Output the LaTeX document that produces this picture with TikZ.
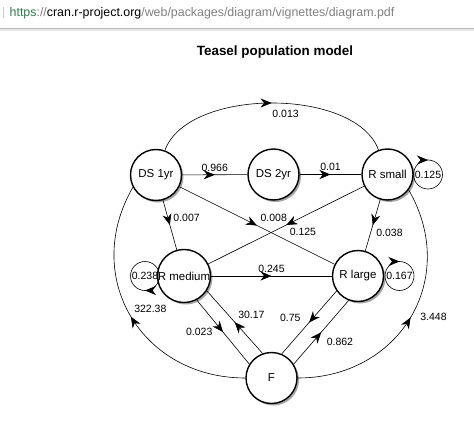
\documentclass[tikz,border=0pt]{standalone}
\usepackage{fontspec}
\setmainfont{Liberation Sans}
\usetikzlibrary{arrows.meta,decorations.markings,shadows}
\definecolor{urlgreen}{HTML}{2E7D4A}
\definecolor{urlgray}{HTML}{808080}
\begin{document}
\begin{tikzpicture}[x=1pt,y=1pt,
 stage/.style={circle,draw,line width=1.4pt,fill=white,minimum size=51pt,inner sep=0pt,font=\fontsize{11.5}{13}\selectfont,drop shadow={shadow xshift=2pt,shadow yshift=-2pt,fill=black!35,opacity=1}},
 flow/.style={line width=0.6pt,postaction={decorate},decoration={markings,mark=at position 0.5 with {\arrow{Stealth[length=11pt,width=9pt,inset=3.5pt]}}}},
 rate/.style={font=\fontsize{10.5}{12}\selectfont,inner sep=3.3pt}]
 \useasboundingbox (0,0) rectangle (474,432);
 \draw[gray!40,line width=0.6pt] (3,414)--(3,425); %入力欄
 \node[anchor=west,inner sep=0pt,font=\fontsize{12.4}{14}\selectfont] (url) at (9.5,419) {\textcolor{urlgreen}{https}\textcolor{urlgray}{://}cran.r-project.org\textcolor{urlgray}{/web/packages/diagram/vignettes/diagram.pdf}}; %URL
 \fill[gray!18] (0,401) rectangle (474,404);
 \draw[gray!55,line width=0.8pt] (0,404)--(474,404); %区切り線
 \node[font=\bfseries\fontsize{13.4}{16}\selectfont] (title) at (275,380) {Teasel population model}; %タイトル
 \node[stage] (ds1) at (156,257) {DS 1yr};
 \node[stage] (ds2) at (273.5,257.5) {DS 2yr};
 \node[stage] (rsmall) at (387.5,257.5) {R small};
 \node[stage] (rmed) at (184,156) {R medium};
 \node[stage] (rlarge) at (358,156) {R large};
 \node[stage] (f) at (271.5,54) {F};
 \draw[flow] (ds1) to[bend left=70,looseness=0.8] node[rate,below,xshift=14pt,yshift=-4pt] (l013) {0.013} (rsmall); %上の弧
 \draw[flow] (ds1)--(ds2) node[rate,midway,above] (l966) {0.966};
 \draw[flow] (ds2)--(rsmall) node[rate,midway,above] (l01) {0.01};
 \draw[flow] (ds1)--(rmed) node[rate,midway,above right] (l007) {0.007};
 \draw[flow] (ds1)--(rlarge) node[rate,midway,above right] (l008) {0.008};
 \draw[flow] (rsmall)--(rmed) node[rate,midway,below right] (l125) {0.125};
 \draw[flow] (rsmall)--(rlarge) node[rate,midway,below right] (l038) {0.038};
 \draw[flow] (rmed)--(rlarge) node[rate,midway,above] (l245) {0.245};
 \draw[flow] (rmed.-62)--(f.148) node[rate,midway,left=7pt] (l023) {0.023};
 \draw[flow] (f.110)--(rmed.-33) node[rate,midway,above right] (l3017) {30.17};
 \draw[flow] (rlarge.215)--(f.67) node[rate,midway,left=5pt,yshift=5pt] (l075) {0.75};
 \draw[flow] (f.32)--(rlarge.249) node[rate,midway,below right=2pt] (l862) {0.862};
 \draw[flow] (f.west) to[out=180,in=240,looseness=1.2] node[rate,above right] (l32238) {322.38} (ds1.208); %左の弧
 \draw[flow] (f.east) to[out=0,in=300,looseness=1.2] node[rate,right=6pt] (l3448) {3.448} (rsmall.-36); %右の弧
 \draw[flow] ([xshift=-39pt]rmed.center) ++(0,14.5) arc[start angle=90,end angle=-270,radius=14.5]; %自己ループ
 \node[rate] (l238) at ([xshift=-39pt]rmed.center) {0.238};
 \draw[flow] ([xshift=41.5pt]rlarge.center) ++(0,-14.5) arc[start angle=-90,end angle=-450,radius=14.5];
 \node[rate] (l167) at ([xshift=41.5pt]rlarge.center) {0.167};
 \draw[flow] ([xshift=40.5pt]rsmall.center) ++(0,-14.5) arc[start angle=-90,end angle=-450,radius=14.5];
 \node[rate] (l125b) at ([xshift=40.5pt]rsmall.center) {0.125};
\end{tikzpicture}
\end{document}
